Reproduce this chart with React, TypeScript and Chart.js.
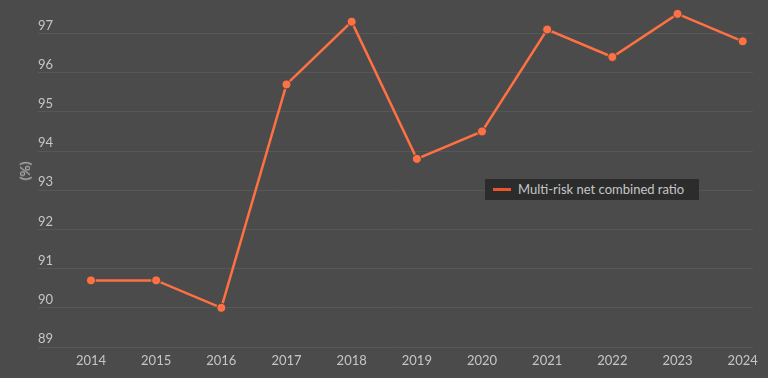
import React, { useEffect, useRef } from 'react';
import { Chart, registerables } from 'chart.js';

Chart.register(...registerables);

const years = [2014, 2015, 2016, 2017, 2018, 2019, 2020, 2021, 2022, 2023, 2024];
const ratio = [90.7, 90.7, 90.0, 95.7, 97.3, 93.8, 94.5, 97.1, 96.4, 97.5, 96.8];
const yTicks = [89, 90, 91, 92, 93, 94, 95, 96, 97];
const seriesLabel = 'Multi-risk net combined ratio';
const yTitle = '(%)';

const BG = '#4b4b4b';
const GRID = '#575757';
const TEXT = '#c4c6c8';
const LINE = '#ff7043';
const FONT = 'Lato, "Open Sans", sans-serif';

export default function App() {
  const ref = useRef<HTMLCanvasElement | null>(null);

  useEffect(() => {
    document.body.style.margin = '0';
    if (!ref.current) return;
    const chart = new Chart(ref.current, {
      type: 'line',
      data: {
        datasets: [
          {
            label: seriesLabel,
            data: years.map((y, i) => ({ x: y, y: ratio[i] })),
            borderColor: LINE,
            backgroundColor: LINE,
            borderWidth: 2.5,
            pointRadius: 4.5,
            pointBackgroundColor: LINE,
            pointBorderColor: BG,
            pointBorderWidth: 1,
            tension: 0,
          },
        ],
      },
      options: {
        responsive: false,
        animation: false,
        devicePixelRatio: 1,
        layout: { padding: { left: 0, right: 15, top: 8, bottom: 0 } },
        plugins: {
          legend: { display: false },
          tooltip: { enabled: false },
        },
        scales: {
          x: {
            type: 'linear',
            min: 2013.187,
            max: 2024.158,
            afterBuildTicks: (scale: any) => {
              scale.ticks = years.map((v) => ({ value: v }));
            },
            afterFit: (scale: any) => {
              scale.height = 31;
            },
            grid: { display: false, drawTicks: false },
            border: { display: false },
            ticks: {
              color: TEXT,
              font: { family: FONT, size: 13 },
              padding: 6,
              maxRotation: 0,
              autoSkip: false,
              callback: (v: any) => String(v),
            },
          },
          y: {
            min: 89,
            max: 97.65,
            afterBuildTicks: (scale: any) => {
              scale.ticks = yTicks.map((v) => ({ value: v }));
            },
            afterFit: (scale: any) => {
              scale.width = 38;
            },
            grid: { color: GRID, lineWidth: 1, drawTicks: false },
            border: { display: false },
            ticks: {
              mirror: true,
              padding: 0,
              labelOffset: -8,
              color: TEXT,
              font: { family: FONT, size: 13 },
              callback: (v: any) => String(v),
            },
            title: { display: false, text: yTitle },
          },
        },
      },
    });
    return () => chart.destroy();
  }, []);

  return (
    <div style={{ position: 'relative', width: 768, height: 378, background: BG, overflow: 'hidden' }}>
      <canvas ref={ref} width={768} height={378} style={{ display: 'block', width: 768, height: 378 }} />
      <div
        style={{
          position: 'absolute',
          left: 25,
          top: 171,
          transform: 'translate(-50%, -50%) rotate(-90deg)',
          fontFamily: FONT,
          fontSize: 14,
          lineHeight: '16px',
          color: TEXT,
          whiteSpace: 'nowrap',
        }}
      >
        {yTitle}
      </div>
      <div
        style={{
          position: 'absolute',
          left: 485,
          top: 179,
          width: 214,
          height: 21,
          background: '#2c2c2c',
          fontFamily: FONT,
          fontSize: 13,
          lineHeight: '21px',
          color: TEXT,
        }}
      >
        <div style={{ position: 'absolute', left: 8, top: 9, width: 18, height: 3, background: '#e8562c' }} />
        <span style={{ position: 'absolute', left: 33, top: 0, whiteSpace: 'nowrap' }}>{seriesLabel}</span>
      </div>
    </div>
  );
}
